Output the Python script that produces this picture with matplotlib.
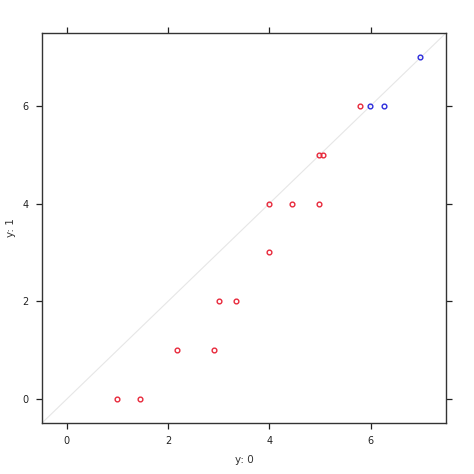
import numpy as np
import matplotlib.pyplot as plt

# sorted quantiles of the two groups
q0 = [1.0, 1.45, 2.17, 2.91, 3.0, 3.35, 4.0, 4.0, 4.45, 4.98, 4.98, 5.07, 5.79, 5.98, 6.26, 6.98]
q1 = [0, 0, 1, 1, 2, 2, 3, 4, 4, 4, 5, 5, 6, 6, 6, 7]
grp = ['r', 'r', 'r', 'r', 'r', 'r', 'r', 'r', 'r', 'r', 'r', 'r', 'r', 'b', 'b', 'b']
ticks = [0, 2, 4, 6]

cols = {'r': '#e8283a', 'b': '#2b2bdc'}

fig = plt.figure(figsize=(4.74, 4.74), dpi=100)
ax = fig.add_axes([0.0886, 0.1076, 0.8523, 0.8228])

ax.plot([-1, 8], [-1, 8], color='#e6e6e6', lw=0.8, zorder=1)
for x, y, g in zip(q0, q1, grp):
    ax.plot(x, y, 'o', mfc='none', mec=cols[g], ms=3.4, mew=1.0, zorder=2)

ax.set_xlim(-0.49, 7.49)
ax.set_ylim(-0.49, 7.49)
ax.set_xticks(ticks)
ax.set_yticks(ticks)
ax.tick_params(direction='out', length=4.5, width=0.9, labelsize=7, colors='#222222',
               top=True, right=True, labeltop=False, labelright=False, pad=5)
for s in ax.spines.values():
    s.set_linewidth(1.0)
    s.set_color('#333333')

ax.set_xlabel('y: 0', fontsize=7.5, color='#333333', labelpad=6)
ax.set_ylabel('y: 1', fontsize=7.5, color='#333333', labelpad=5)

plt.savefig('out.png', dpi=100)
